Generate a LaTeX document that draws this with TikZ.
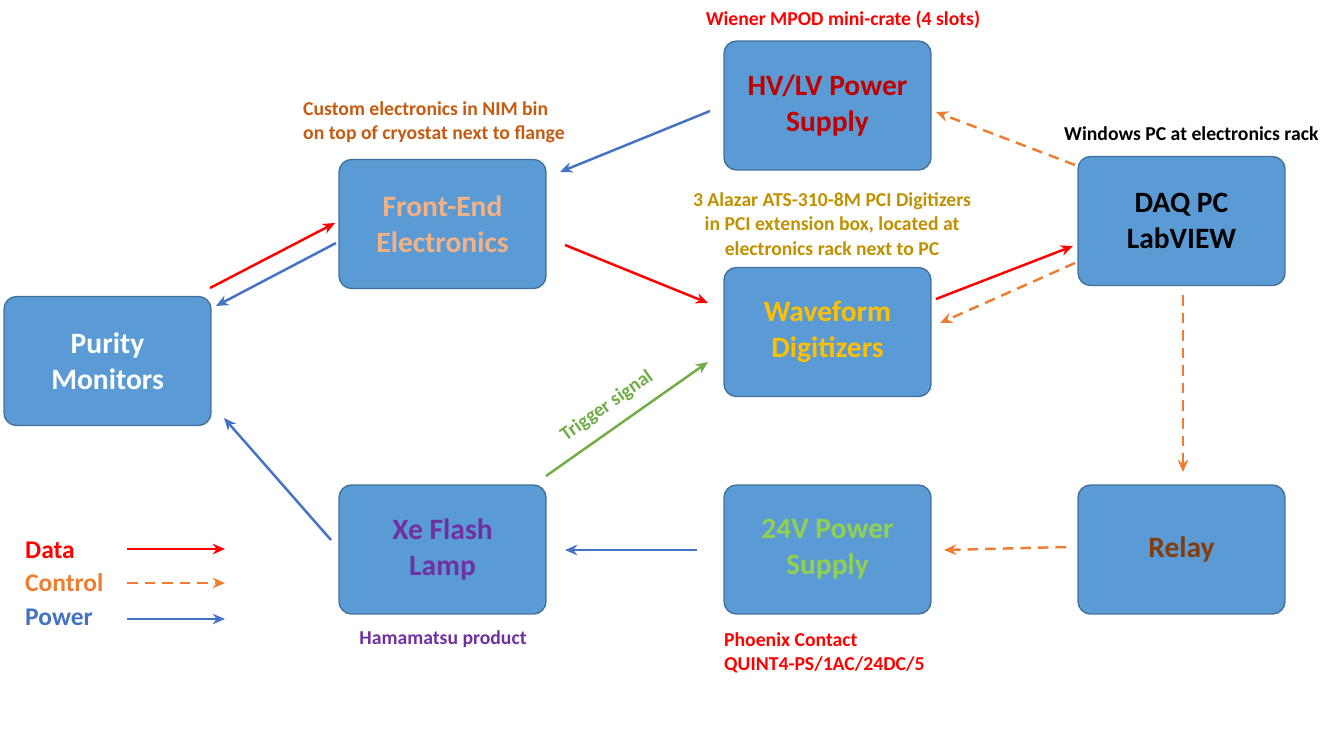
\documentclass[tikz,border=0pt]{standalone}
\usepackage{fontspec}
\setmainfont{Carlito}
\usetikzlibrary{arrows.meta}
\definecolor{boxf}{HTML}{5B9BD5}
\definecolor{boxd}{HTML}{41719C}
\definecolor{cred}{HTML}{FF0000}
\definecolor{cora}{HTML}{ED7D31}
\definecolor{cblu}{HTML}{4472C4}
\definecolor{cgrn}{HTML}{70AD47}
\definecolor{cpeach}{HTML}{F4B183}
\definecolor{cgold}{HTML}{FFC000}
\definecolor{cdgold}{HTML}{BF9000}
\definecolor{cpurp}{HTML}{7030A0}
\definecolor{clgrn}{HTML}{92D050}
\definecolor{cbrown}{HTML}{843C0C}
\definecolor{cdred}{HTML}{C00000}
\definecolor{cnote}{HTML}{C55A11}
\begin{document}
\begin{tikzpicture}[x=0.02cm,y=-0.02cm,
 box/.style={draw=boxd,line width=0.8pt,fill=boxf,rounded corners=0.25cm,minimum width=4.14cm,minimum height=2.58cm,align=center,font=\fontsize{16.8}{20.5}\selectfont\bfseries},
 note/.style={font=\fontsize{11.2}{13.8}\selectfont\bfseries},
 arr/.style={line width=1.4pt,-{Stealth[length=7pt,width=6pt]}},
 data/.style={arr,cred},
 ctrl/.style={arr,cora,dash pattern=on 6pt off 4pt},
 pow/.style={arr,cblu},
 trig/.style={arr,cgrn}]
\useasboundingbox (0,0) rectangle (1326,751);
\node[box,text=cdred] (hv) at (827.5,105.5) {HV/LV Power\\Supply};
\node[box,text=cpeach] (fe) at (442.5,224) {Front-End\\Electronics};
\node[box,text=black] (daq) at (1181.5,221) {DAQ PC\\LabVIEW};
\node[box,text=cgold] (wf) at (827.5,332) {Waveform\\Digitizers};
\node[box,text=white] (pm) at (107.5,361) {Purity\\Monitors};
\node[box,text=cpurp] (xe) at (442.5,549.5) {Xe Flash\\Lamp};
\node[box,text=clgrn] (ps) at (827.5,549.5) {24V Power\\Supply};
\node[box,text=cbrown] (rl) at (1181.5,549.5) {Relay};

\node[note,text=cred] (n1) at (843,20) {Wiener MPOD mini-crate (4 slots)};
\node[note,text=cnote,align=left,anchor=west] (n2) at (297,122) {Custom electronics in NIM bin\\on top of cryostat next to flange};
\node[note,text=black,anchor=west] (n3) at (1058,134) {Windows PC at electronics rack};
\node[note,text=cdgold,align=center] (n4) at (832,224) {3 Alazar ATS-310-8M PCI Digitizers\\in PCI extension box, located at\\electronics rack next to PC};
\node[note,text=cpurp] (n5) at (443,639) {Hamamatsu product};
\node[note,text=cred,align=left,anchor=west] (n6) at (718,653) {Phoenix Contact\\QUINT4-PS/1AC/24DC/5};

\coordinate (a1) at (710,111); \coordinate (a2) at (560,172);
\draw[pow] (a1) -- (a2);
\coordinate (b1) at (1075,165); \coordinate (b2) at (936,112);
\draw[ctrl] (b1) -- (b2);
\coordinate (c1) at (210,288); \coordinate (c2) at (335,223);
\draw[data] (c1) -- (c2);
\coordinate (d1) at (336,243); \coordinate (d2) at (216,306);
\draw[pow] (d1) -- (d2);
\coordinate (e1) at (565,245); \coordinate (e2) at (708,303);
\draw[data] (e1) -- (e2);
\coordinate (f1) at (936,299); \coordinate (f2) at (1073,246);
\draw[data] (f1) -- (f2);
\coordinate (g1) at (1075,263); \coordinate (g2) at (940,323);
\draw[ctrl] (g1) -- (g2);
\coordinate (h1) at (1183,295); \coordinate (h2) at (1183,472);
\draw[ctrl] (h1) -- (h2);
\coordinate (i1) at (1066,547); \coordinate (i2) at (944,550);
\draw[ctrl] (i1) -- (i2);
\coordinate (j1) at (697,550); \coordinate (j2) at (565,550);
\draw[pow] (j1) -- (j2);
\coordinate (k1) at (331,540); \coordinate (k2) at (224,418);
\draw[pow] (k1) -- (k2);
\coordinate (l1) at (546,476); \coordinate (l2) at (708,362);
\draw[trig] (l1) -- (l2);
\node[note,text=cgrn,rotate=35.1] (tl) at (607,406) {Trigger signal};

\node[font=\fontsize{14.5}{16}\selectfont\bfseries,text=cred,anchor=west] (ld) at (19,550) {Data};
\node[font=\fontsize{14.5}{16}\selectfont\bfseries,text=cora,anchor=west] (lc) at (19,583) {Control};
\node[font=\fontsize{14.5}{16}\selectfont\bfseries,text=cblu,anchor=west] (lp) at (19,617) {Power};
\coordinate (m1) at (127,549); \coordinate (m2) at (225,549);
\draw[data] (m1) -- (m2);
\coordinate (o1) at (127,583); \coordinate (o2) at (225,583);
\draw[ctrl] (o1) -- (o2);
\coordinate (p1) at (127,619); \coordinate (p2) at (225,619);
\draw[pow] (p1) -- (p2);
\end{tikzpicture}
\end{document}
